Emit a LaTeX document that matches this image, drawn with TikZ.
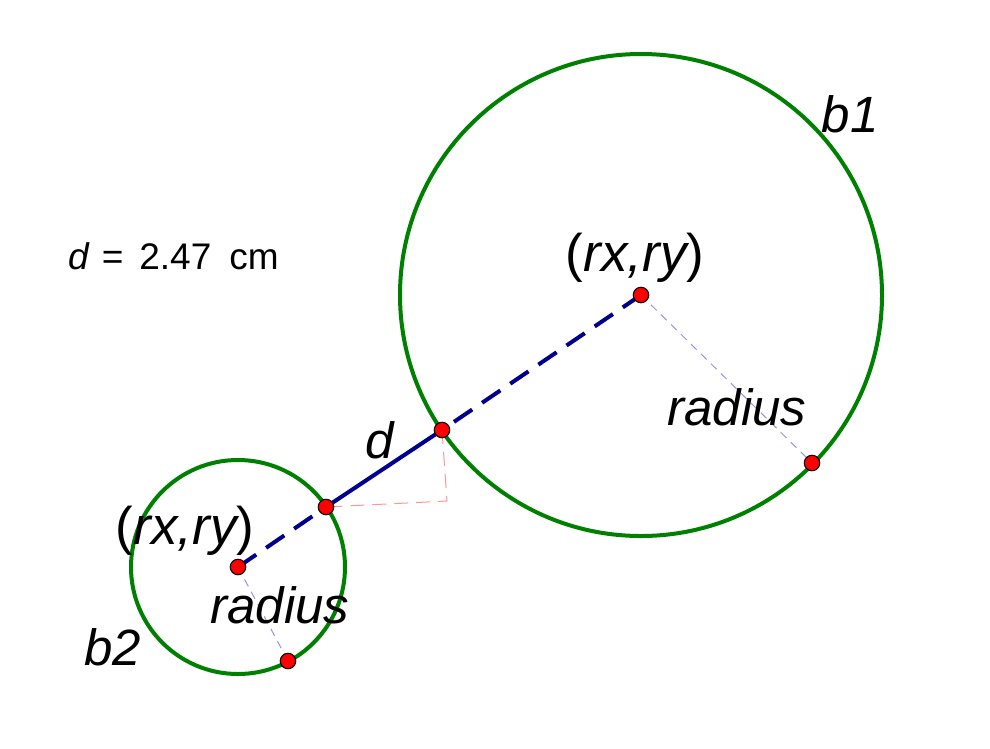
\documentclass[tikz,border=0pt]{standalone}
\usepackage{fontspec}
\setmainfont{Liberation Sans}
\definecolor{cgreen}{RGB}{0,128,0}
\definecolor{cnavy}{RGB}{0,0,140}
\definecolor{clav}{RGB}{150,150,220}
\definecolor{cpink}{RGB}{255,150,150}
\tikzset{
  dot/.style={circle,fill=red,draw=black,line width=1.1pt,minimum size=15.5pt,inner sep=0pt},
  circ/.style={draw=cgreen,line width=4pt},
  seg/.style={draw=cnavy,line width=4pt},
  segdash/.style={seg,dash pattern=on 22pt off 12pt},
  radln/.style={draw=clav,line width=1pt,dash pattern=on 8pt off 6pt},
  rightmark/.style={draw=cpink,line width=1pt,dash pattern=on 14pt off 8pt},
  big/.style={inner sep=0pt,anchor=base,font=\fontsize{51}{60}\selectfont\itshape},
  meas/.style={inner sep=0pt,anchor=base,font=\fontsize{37}{44}\selectfont}
}
\begin{document}
\begin{tikzpicture}[x=1pt,y=-1pt]
\useasboundingbox (0,0) rectangle (990,748);
\coordinate (C1) at (641,295);
\coordinate (C2) at (238,567);
\coordinate (P1) at (442,430);
\coordinate (P2) at (326,507);
\coordinate (R1) at (812,463);
\coordinate (R2) at (288,661);
\coordinate (K) at (447,501);
% circles
\draw[circ] (C1) circle (241pt);
\draw[circ] (C2) circle (107pt);
% right angle mark
\draw[rightmark] (P1) -- (K) -- (P2);
% radius lines
\draw[radln] (C1) -- (R1);
\draw[radln] (C2) -- (R2);
% distance segment
\draw[segdash] (C2) -- (P2);
\draw[seg] (P2) -- (P1);
\draw[segdash] (C1) -- (P1);
% points
\node[dot] (c1) at (C1) {};
\node[dot] (c2) at (C2) {};
\node[dot] (p1) at (P1) {};
\node[dot] (p2) at (P2) {};
\node[dot] (r1) at (R1) {};
\node[dot] (r2) at (R2) {};
% labels
\node[big] (lb1) at (850,132) {b1};
\node[big] (lb2) at (113,665) {b2};
\node[big,font=\fontsize{53}{62}\selectfont\itshape] (lc1) at (635,271) {\upshape(\itshape rx,ry\upshape)};
\node[big,font=\fontsize{53}{62}\selectfont\itshape] (lc2) at (185,544) {\upshape(\itshape rx,ry\upshape)};
\node[big] (lr1) at (737,425) {radius};
\node[big] (lr2) at (280,623) {radius};
\node[big] (ld) at (380,458) {d};
\node[meas,anchor=base west] (lm) at (68,269) {\itshape d\upshape\hspace{13pt}=\hspace{16pt}2.47\hspace{18pt}cm};
\end{tikzpicture}
\end{document}
